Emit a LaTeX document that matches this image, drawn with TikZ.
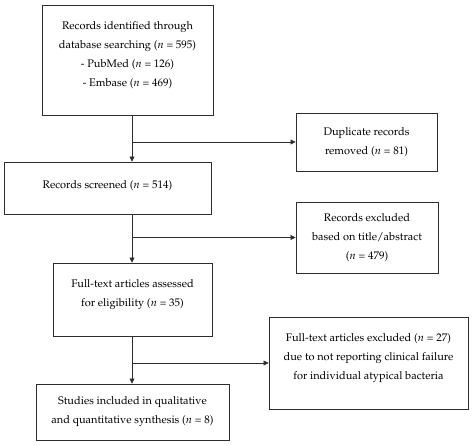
\documentclass[tikz,border=0pt]{standalone}
\usepackage[T1]{fontenc}
\usepackage{mathpazo}
\usepackage{tikz}
\usetikzlibrary{arrows.meta,positioning}
\definecolor{fline}{RGB}{45,45,45}

\begin{document}
\begin{tikzpicture}[x=1pt,y=-1pt,>={Triangle[length=5pt,width=5pt]},
  box/.style={draw=fline,line width=0.9pt,inner sep=0pt},
  txt/.style={align=center,inner sep=0pt,font=\fontsize{11}{19}\selectfont},
  every node/.style={font=\fontsize{11}{19}\selectfont}]
  \useasboundingbox (0,0) rectangle (474,445);
  % boxes
  \node[box,minimum width=171pt,minimum height=110pt] (ident) at (127.5,60) {};
  \node[txt,below=17pt of ident.north] (identtxt) {Records identified through\\database searching ($n$ = 595)\\- PubMed ($n$ = 126)\\- Embase ($n$ = 469)};
  \node[box,minimum width=207pt,minimum height=52pt] (screen) at (107.5,188) {};
  \node[txt,below=19pt of screen.north] (screentxt) {Records screened ($n$ = 514)};
  \node[box,txt,minimum width=141pt,minimum height=58pt] (dup) at (366.5,142) {Duplicate records\\removed ($n$ = 81)};
  \node[box,txt,minimum width=142pt,minimum height=71pt] (excl) at (367,237.5) {Records excluded\\based on title/abstract\\($n$ = 479)};
  \node[box,minimum width=159pt,minimum height=73pt] (full) at (132.5,299.5) {};
  \node[txt,below=17pt of full.north] (fulltxt) {Full-text articles assessed\\for eligibility ($n$ = 35)};
  \node[box,minimum width=199pt,minimum height=92pt] (ftexcl) at (368.5,363) {};
  \node[txt,below=17pt of ftexcl.north] (ftexcltxt) {Full-text articles excluded ($n$ = 27)\\due to not reporting clinical failure\\for individual atypical bacteria};
  \node[box,txt,minimum width=193pt,minimum height=56pt] (incl) at (132.5,412) {Studies included in qualitative\\and quantitative synthesis ($n$ = 8)};
  % arrows
  \coordinate (trunk) at (132,0);
  \draw[fline,->] (ident.south -| trunk) -- (screen.north -| trunk);
  \draw[fline,->] (trunk |- dup.west) -- (dup.west);
  \draw[fline,->] (screen.south -| trunk) -- (full.north -| trunk);
  \draw[fline,->] (trunk |- excl.west) -- (excl.west);
  \draw[fline,->] (full.south -| trunk) -- (incl.north -| trunk);
  \draw[fline,->] (trunk |- ftexcl.west) -- (ftexcl.west);
\end{tikzpicture}
\end{document}
